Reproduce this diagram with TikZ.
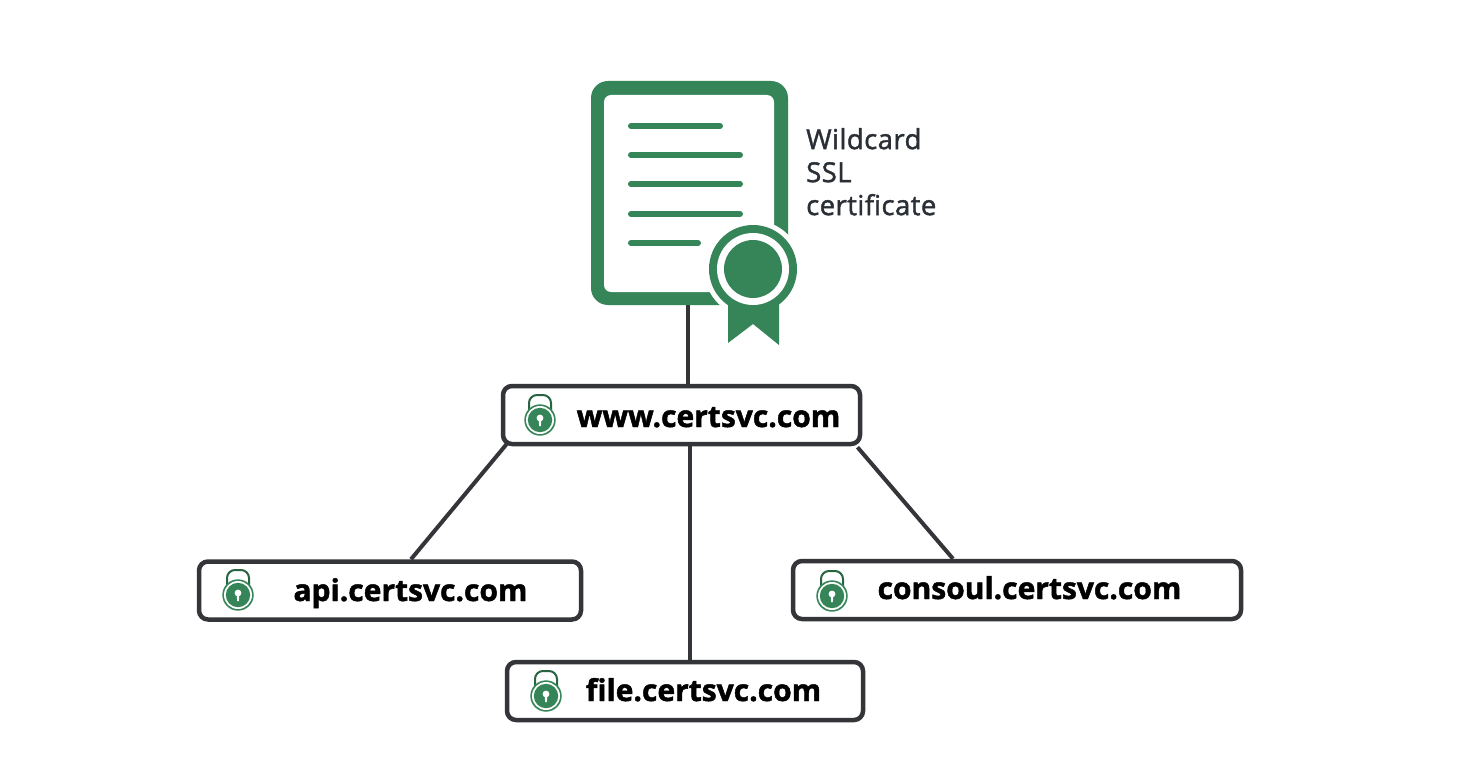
\documentclass[tikz,border=0pt]{standalone}
\usepackage{fontspec}
\setmainfont{Open Sans}
\newfontfamily\hostfont{Open Sans}[BoldFeatures={FakeBold=1.5}]
\newfontfamily\labelfont{Open Sans}[FakeBold=1.5,LetterSpace=1.6]
\usetikzlibrary{calc}
\definecolor{certgreen}{HTML}{358558}
\definecolor{edgegrey}{HTML}{333538}
\definecolor{labelink}{HTML}{2A2F36}
\tikzset{
  hostbox/.style={draw=edgegrey,line width=4.5pt,rounded corners=9pt,fill=white,inner sep=0pt},
  hosttext/.style={anchor=base,inner sep=0pt,text=black,font=\hostfont\fontsize{30}{34}\selectfont\bfseries},
  link/.style={draw=edgegrey,line width=4pt},
  docline/.style={draw=certgreen,line width=6pt,line cap=round},
  padlock/.pic={
    \draw[certgreen!75!black,line width=2pt,rounded corners=8pt] (-11,-9) -- (-11,-25) -- (11,-25) -- (11,-9);
    \fill[certgreen] (0,0) circle (15.7);
    \fill[white] (0,0) circle (14);
    \fill[certgreen] (0,0) circle (12.2);
    \fill[white] (0,-2) circle (3.4);
    \fill[white] (-1.2,-1) -- (1.2,-1) -- (0.9,6) -- (-0.9,6) -- cycle;
  }
}
\begin{document}
\begin{tikzpicture}[x=1pt,y=-1pt]
\useasboundingbox (0,0) rectangle (1460,768);
\fill[white] (0,0) rectangle (1460,768);
% host boxes
\node[hostbox,minimum width=357pt,minimum height=58pt] (www) at (681.5,415) {};
\node[hostbox,minimum width=382pt,minimum height=58pt] (api) at (390,590.5) {};
\node[hostbox,minimum width=448pt,minimum height=58pt] (consoul) at (1017,590) {};
\node[hostbox,minimum width=356pt,minimum height=58pt] (file) at (685,691) {};
% connectors
\coordinate (cert) at (688,305);
\draw[link] (cert) -- ([xshift=6.5pt]www.north);
\draw[link] ([xshift=-175pt,yshift=2pt]www.south) -- ([xshift=21pt]api.north);
\draw[link] ([xshift=8.5pt]www.south) -- ([xshift=5pt]file.north);
\draw[link] ([xshift=176pt,yshift=-1pt]www.south) -- ([xshift=-64pt]consoul.north);
% host names
\node[hosttext] (wwwt) at (708.5,427) {www.certsvc.com};
\node[hosttext] (apit) at (410.5,601) {api.certsvc.com};
\node[hosttext] (const) at (1029.5,599) {consoul.certsvc.com};
\node[hosttext] (filet) at (703.5,701) {file.certsvc.com};
\pic at (540,420) {padlock};
\pic at (238,595) {padlock};
\pic at (832,596) {padlock};
\pic at (546,696) {padlock};
% document
\fill[certgreen,rounded corners=17pt] (591,81) rectangle (788,305);
\fill[white,rounded corners=7pt] (604,95) rectangle (774,292);
\draw[docline] (631,126) -- (720,126);
\draw[docline] (631,155) -- (740,155);
\draw[docline] (631,184) -- (740,184);
\draw[docline] (631,214) -- (740,214);
\draw[docline] (631,243) -- (698,243);
% seal
\fill[white] (753,269) circle (49);
\fill[certgreen] (728,300) -- (779,300) -- (779,345) -- (753,324) -- (728,343) -- cycle;
\fill[certgreen] (753,269) circle (44);
\fill[white] (753,269) circle (36);
\fill[certgreen] (753,269) circle (29);
% label
\node[anchor=north west,align=left,inner sep=0pt,text=labelink,font=\labelfont\fontsize{27.5}{33}\selectfont] (lbl) at (806,128) {Wildcard\\SSL\\certificate};
\end{tikzpicture}
\end{document}
